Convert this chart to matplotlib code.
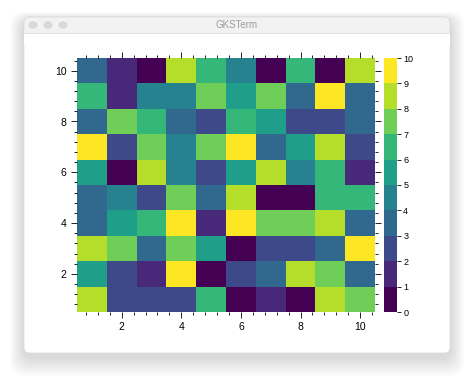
import numpy as np
import matplotlib
matplotlib.use("Agg")
import matplotlib.pyplot as plt
from matplotlib.colors import BoundaryNorm
from matplotlib.patches import FancyBboxPatch, Rectangle, Circle
from matplotlib.ticker import MultipleLocator

plt.rcParams['font.family'] = ['Liberation Sans', 'DejaVu Sans']

# heatmap levels, read row by row from the top (y = 10) to the bottom (y = 1)
row_y10 = [3, 1, 0, 8, 6, 4, 0, 6, 0, 8]
row_y9 = [6, 1, 4, 4, 7, 5, 7, 3, 9, 3]
row_y8 = [3, 7, 6, 3, 2, 6, 5, 2, 2, 3]
row_y7 = [9, 2, 7, 4, 7, 9, 3, 5, 8, 2]
row_y6 = [5, 0, 8, 4, 2, 5, 8, 4, 6, 1]
row_y5 = [3, 4, 2, 7, 3, 8, 0, 0, 6, 6]
row_y4 = [3, 5, 6, 9, 1, 9, 7, 7, 8, 3]
row_y3 = [8, 7, 3, 7, 5, 0, 2, 2, 3, 9]
row_y2 = [5, 2, 1, 9, 0, 2, 3, 8, 7, 3]
row_y1 = [8, 2, 2, 2, 6, 0, 1, 0, 8, 7]

x_vals = np.arange(1, 11)
y_vals = np.arange(1, 11)
color_levels = np.arange(0, 11)
axis_ticks = [2, 4, 6, 8, 10]

W, H = 474, 383
fig = plt.figure(figsize=(W / 100, H / 100), dpi=100)
fig.patch.set_facecolor('white')


def fx(px):
    return px / W


def fy(py):
    return 1 - py / H


# --- window decoration (GKSTerm frame) ---
win_l, win_r, win_t, win_b = 24, 450, 17, 353
# soft drop shadow, mostly below the window
for i in range(12):
    grow = 14 - i * 1.1
    drop = 9 - i * 0.4
    shadow = FancyBboxPatch((fx(win_l - grow), fy(win_b + grow + drop)),
                            (win_r - win_l + 2 * grow) / W,
                            (win_b - win_t + 2 * grow) / H,
                            boxstyle="round,pad=0,rounding_size=0.03",
                            mutation_aspect=W / H,
                            transform=fig.transFigure, facecolor='black',
                            edgecolor='none', alpha=0.012, zorder=-20)
    fig.add_artist(shadow)

window = FancyBboxPatch((fx(win_l), fy(win_b)), (win_r - win_l) / W,
                        (win_b - win_t) / H,
                        boxstyle="round,pad=0,rounding_size=0.012",
                        mutation_aspect=W / H,
                        transform=fig.transFigure, facecolor='white',
                        edgecolor='#d9d9d9', linewidth=0.5, zorder=-10)
fig.add_artist(window)

titlebar = FancyBboxPatch((fx(win_l), fy(42)), (win_r - win_l) / W, (42 - win_t) / H,
                          boxstyle="round,pad=0,rounding_size=0.012",
                          mutation_aspect=W / H,
                          transform=fig.transFigure, facecolor='#f2f2f2',
                          edgecolor='#d9d9d9', linewidth=0.5, zorder=-9)
fig.add_artist(titlebar)
fig.add_artist(Rectangle((fx(win_l + 0.4), fy(46)), (win_r - win_l - 0.8) / W, 13 / H,
                         transform=fig.transFigure, facecolor='white',
                         edgecolor='none', zorder=-8))
fig.add_artist(plt.Line2D([fx(win_l), fx(win_r)], [fy(33), fy(33)],
                          transform=fig.transFigure, color='#dcdcdc',
                          linewidth=0.6, zorder=-7))
for cx in [33, 48, 63]:
    fig.add_artist(Circle((fx(cx), fy(25)), 4 / W, transform=fig.transFigure,
                          facecolor='#dadada', edgecolor='#cdcdcd',
                          linewidth=0.4, zorder=-6))
fig.text(fx(237), fy(25.5), 'GKSTerm', ha='center', va='center',
         fontsize=7, color='#9c9c9c')

# --- heatmap ---
grid = np.array([row_y1, row_y2, row_y3, row_y4, row_y5,
                 row_y6, row_y7, row_y8, row_y9, row_y10])
cmap = plt.get_cmap('viridis').resampled(10)
norm = BoundaryNorm(color_levels, cmap.N)

ax = fig.add_axes([fx(77), fy(312), 298 / W, 254 / H])
x_edges = np.append(x_vals - 0.5, x_vals[-1] + 0.5)
y_edges = np.append(y_vals - 0.5, y_vals[-1] + 0.5)
mesh = ax.pcolormesh(x_edges, y_edges, grid, cmap=cmap, norm=norm)
ax.set_xlim(x_edges[0], x_edges[-1])
ax.set_ylim(y_edges[0], y_edges[-1])
ax.set_xticks(axis_ticks)
ax.set_yticks(axis_ticks)
ax.xaxis.set_minor_locator(MultipleLocator(0.4))
ax.yaxis.set_minor_locator(MultipleLocator(0.4))
ax.tick_params(which='both', direction='out', top=True, right=True,
               color='#222222', width=0.7, labelsize=7.5, pad=3)
ax.tick_params(which='major', length=4.5)
ax.tick_params(which='minor', length=2.5)
for s in ax.spines.values():
    s.set_visible(False)

# --- colorbar ---
cax = fig.add_axes([fx(384), fy(312), 13 / W, 254 / H])
cbar = fig.colorbar(mesh, cax=cax, ticks=color_levels)
cbar.outline.set_visible(False)
cax.tick_params(direction='out', length=3, width=0.7, color='#222222',
                labelsize=6.5, pad=1.5)

fig.savefig('out.png', dpi=100)
